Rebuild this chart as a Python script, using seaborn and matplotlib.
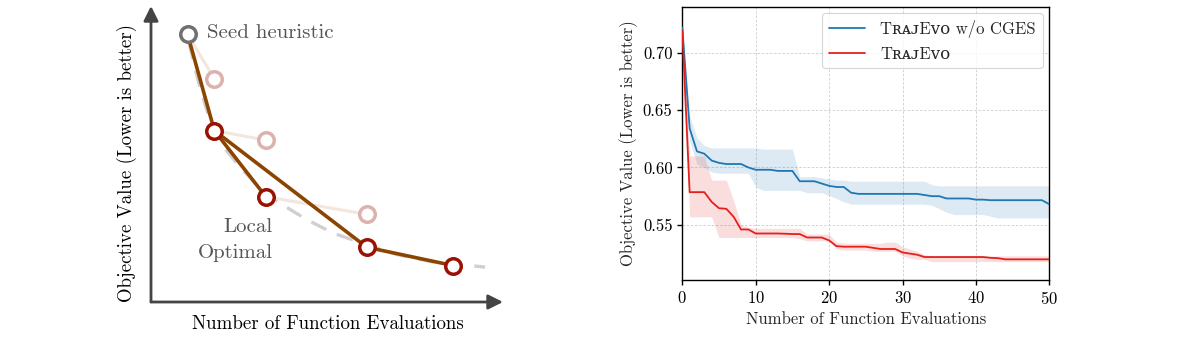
import numpy as np
import pandas as pd
import matplotlib
matplotlib.use("Agg")
import matplotlib.pyplot as plt
import seaborn as sns

# ---------------- data: right panel ----------------
evals = list(range(51))

ablation_mean = [0.722, 0.634, 0.614, 0.612, 0.606, 0.604, 0.603, 0.603, 0.603, 0.600,
                 0.598, 0.598, 0.598, 0.597, 0.597, 0.597, 0.588, 0.588, 0.588, 0.586,
                 0.584, 0.583, 0.583, 0.578, 0.577, 0.577, 0.577, 0.577, 0.577, 0.577,
                 0.577, 0.577, 0.577, 0.576, 0.575, 0.575, 0.573, 0.573, 0.573, 0.573,
                 0.572, 0.572, 0.5715, 0.5715, 0.5715, 0.5715, 0.5715, 0.5715, 0.5715, 0.5715,
                 0.568]
ablation_hi = [0.722, 0.645, 0.626, 0.619, 0.617, 0.617, 0.617, 0.617, 0.617, 0.617,
               0.617, 0.616, 0.616, 0.616, 0.616, 0.616, 0.592, 0.592, 0.592, 0.591,
               0.590, 0.589, 0.589, 0.588, 0.588, 0.588, 0.588, 0.588, 0.588, 0.588,
               0.588, 0.588, 0.588, 0.588, 0.585, 0.584, 0.584, 0.584, 0.584, 0.584,
               0.584, 0.584, 0.584, 0.584, 0.584, 0.584, 0.584, 0.584, 0.584, 0.584,
               0.584]
ablation_lo = [0.722, 0.623, 0.603, 0.600, 0.596, 0.595, 0.595, 0.595, 0.595, 0.595,
               0.583, 0.580, 0.580, 0.580, 0.580, 0.580, 0.580, 0.578, 0.578, 0.578,
               0.5755, 0.573, 0.570, 0.568, 0.568, 0.568, 0.568, 0.568, 0.568, 0.568,
               0.568, 0.568, 0.568, 0.568, 0.567, 0.564, 0.561, 0.559, 0.559, 0.559,
               0.559, 0.559, 0.5575, 0.556, 0.556, 0.556, 0.556, 0.556, 0.556, 0.556,
               0.556]

full_mean = [0.720, 0.5785, 0.5785, 0.5785, 0.570, 0.5645, 0.564, 0.557, 0.546, 0.546,
             0.5425, 0.5425, 0.5425, 0.5425, 0.5423, 0.542, 0.542, 0.539, 0.539, 0.539,
             0.5365, 0.5315, 0.531, 0.531, 0.531, 0.531, 0.530, 0.529, 0.529, 0.529,
             0.526, 0.525, 0.524, 0.522, 0.522, 0.522, 0.522, 0.522, 0.522, 0.522,
             0.522, 0.522, 0.5213, 0.521, 0.520, 0.520, 0.520, 0.520, 0.520, 0.520,
             0.520]
full_hi = [0.720, 0.610, 0.610, 0.610, 0.589, 0.589, 0.589, 0.571, 0.550, 0.548,
           0.547, 0.547, 0.547, 0.547, 0.547, 0.547, 0.547, 0.542, 0.542, 0.542,
           0.542, 0.535, 0.534, 0.534, 0.534, 0.534, 0.534, 0.534, 0.535, 0.535,
           0.531, 0.529, 0.527, 0.524, 0.523, 0.523, 0.523, 0.523, 0.523, 0.523,
           0.523, 0.523, 0.523, 0.523, 0.523, 0.523, 0.523, 0.523, 0.523, 0.523,
           0.523]
full_lo = [0.720, 0.557, 0.557, 0.557, 0.557, 0.539, 0.539, 0.539, 0.539, 0.539,
           0.539, 0.539, 0.539, 0.539, 0.539, 0.539, 0.538, 0.536, 0.536, 0.536,
           0.536, 0.529, 0.528, 0.528, 0.528, 0.528, 0.527, 0.527, 0.527, 0.527,
           0.523, 0.521, 0.520, 0.520, 0.518, 0.518, 0.518, 0.518, 0.518, 0.518,
           0.518, 0.518, 0.518, 0.518, 0.518, 0.518, 0.518, 0.518, 0.518, 0.518,
           0.518]

series_labels = ["TʀᴀᴊEᴠᴏ w/o CGES", "TʀᴀᴊEᴠᴏ"]
series_colors = ["#1f77b4", "#e3211c"]
x_ticks = [0, 10, 20, 30, 40, 50]
y_ticks = [0.55, 0.60, 0.65, 0.70]

# ---------------- data: left (conceptual) panel ----------------
seed_pt = (0.104, 0.904)
explored_x = [0.180, 0.326, 0.613]
explored_y = [0.754, 0.547, 0.296]
accepted_x = [0.180, 0.326, 0.613, 0.859]
accepted_y = [0.579, 0.356, 0.185, 0.123]
frontier_x = [0.108, 0.125, 0.139, 0.158, 0.176, 0.212, 0.253, 0.305, 0.366, 0.440, 0.517, 0.614, 0.700, 0.801, 0.949]
frontier_y = [0.875, 0.790, 0.726, 0.650, 0.591, 0.515, 0.456, 0.390, 0.334, 0.280, 0.233, 0.193, 0.160, 0.135, 0.118]

# ---------------- style ----------------
sns.set_style("ticks")
plt.rcParams["font.family"] = ["cmr10", "DejaVu Serif", "DejaVu Sans"]
plt.rcParams["mathtext.fontset"] = "cm"
plt.rcParams["axes.formatter.use_mathtext"] = True

W, H = 1192, 344
fig = plt.figure(figsize=(W / 100, H / 100), dpi=100)

# ---------------- left panel ----------------
axL = fig.add_axes([151 / W, 1 - 302 / H, 352 / W, 296 / H])
axL.set_xlim(0, 1)
axL.set_ylim(0, 1)
for s in axL.spines.values():
    s.set_visible(False)
axL.tick_params(left=False, bottom=False, labelleft=False, labelbottom=False)
axc = "#444444"
axL.annotate("", xy=(1, 0), xytext=(0, 0), xycoords="axes fraction",
             arrowprops=dict(arrowstyle="-|>", color=axc, lw=2, mutation_scale=22,
                             shrinkA=0, shrinkB=0), annotation_clip=False)
axL.annotate("", xy=(0, 1), xytext=(0, 0), xycoords="axes fraction",
             arrowprops=dict(arrowstyle="-|>", color=axc, lw=2, mutation_scale=22,
                             shrinkA=0, shrinkB=0), annotation_clip=False)

# dashed frontier
sns.lineplot(x=frontier_x, y=frontier_y, sort=False, ax=axL, color="#d0d0d0",
             lw=2.4, linestyle=(0, (5, 3.5)), zorder=1)
# faded (rejected) moves
faded = "#f3e7dd"
sns.lineplot(x=[seed_pt[0], explored_x[0]], y=[seed_pt[1], explored_y[0]], sort=False,
             ax=axL, color=faded, lw=2.2, zorder=2)
sns.lineplot(x=[accepted_x[0], explored_x[1]], y=[accepted_y[0], explored_y[1]], sort=False,
             ax=axL, color=faded, lw=2.2, zorder=2)
sns.lineplot(x=[accepted_x[1], explored_x[2]], y=[accepted_y[1], explored_y[2]], sort=False,
             ax=axL, color=faded, lw=2.2, zorder=2)
# accepted trajectory
brown = "#8b4500"
sns.lineplot(x=[seed_pt[0], accepted_x[0], accepted_x[1]],
             y=[seed_pt[1], accepted_y[0], accepted_y[1]], sort=False,
             ax=axL, color=brown, lw=2.6, zorder=3)
sns.lineplot(x=[accepted_x[0], accepted_x[2], accepted_x[3]],
             y=[accepted_y[0], accepted_y[2], accepted_y[3]], sort=False,
             ax=axL, color=brown, lw=2.6, zorder=3)
# markers
sns.scatterplot(x=explored_x, y=explored_y, ax=axL, s=125, marker="o", facecolor="white",
                edgecolor="#dcb2ac", linewidth=2.5, zorder=4)
sns.scatterplot(x=accepted_x, y=accepted_y, ax=axL, s=125, marker="o", facecolor="white",
                edgecolor="#9a1204", linewidth=2.5, zorder=5)
sns.scatterplot(x=[seed_pt[0]], y=[seed_pt[1]], ax=axL, s=125, marker="o", facecolor="white",
                edgecolor="#707070", linewidth=2.5, zorder=5)

txtc = "#555555"
axL.text(0.159, 0.909, "Seed heuristic", ha="left", va="center", fontsize=15, color=txtc)
axL.text(0.346, 0.254, "Local", ha="right", va="center", fontsize=15, color=txtc)
axL.text(0.346, 0.165, "Optimal", ha="right", va="center", fontsize=15, color=txtc)
fig.text(127 / W, 1 - 163.5 / H, "Objective Value (Lower is better)", rotation=90,
         ha="center", va="center", fontsize=13.6, color="black")
fig.text(327.8 / W, 1 - 324 / H, "Number of Function Evaluations",
         ha="center", va="center", fontsize=13.6, color="black")

# ---------------- right panel ----------------
axR = fig.add_axes([682.3 / W, 1 - 280 / H, 367 / W, 273.3 / H])
df = pd.DataFrame({
    "evals": evals * 2,
    "value": ablation_mean + full_mean,
    "method": [series_labels[0]] * len(evals) + [series_labels[1]] * len(evals),
})
sns.lineplot(data=df, x="evals", y="value", hue="method", palette=series_colors,
             hue_order=series_labels, ax=axR, lw=1.3, zorder=3)
axR.fill_between(evals, ablation_lo, ablation_hi, color=series_colors[0], alpha=0.15,
                 lw=0, zorder=2)
axR.fill_between(evals, full_lo, full_hi, color=series_colors[1], alpha=0.15,
                 lw=0, zorder=2)
axR.set_xlim(0, 50)
axR.set_ylim(0.502, 0.740)
axR.set_xticks(x_ticks)
axR.set_yticks(y_ticks)
axR.set_yticklabels([f"{v:.2f}" for v in y_ticks])
axR.grid(True, linestyle=(0, (3, 2)), color="#cccccc", lw=0.6)
axR.set_axisbelow(True)
for s in axR.spines.values():
    s.set_visible(True)
    s.set_color("black")
    s.set_linewidth(1.0)
axR.tick_params(axis="both", labelsize=12, direction="out", length=3.5, width=1,
                colors="black", top=False, right=False)
axR.set_xlabel("Number of Function Evaluations", fontsize=12)
axR.set_ylabel("Objective Value (Lower is better)", fontsize=12)
axR.yaxis.set_label_coords(-0.122, 0.5)
axR.xaxis.set_label_coords(0.5, -0.115)
leg = axR.legend(loc="upper right", fontsize=12, frameon=True, fancybox=True,
                 handlelength=2.2, handletextpad=0.9, borderaxespad=0.4)
leg.get_frame().set_edgecolor("#cccccc")
leg.get_frame().set_linewidth(0.8)

fig.savefig("out.png", dpi=100)
